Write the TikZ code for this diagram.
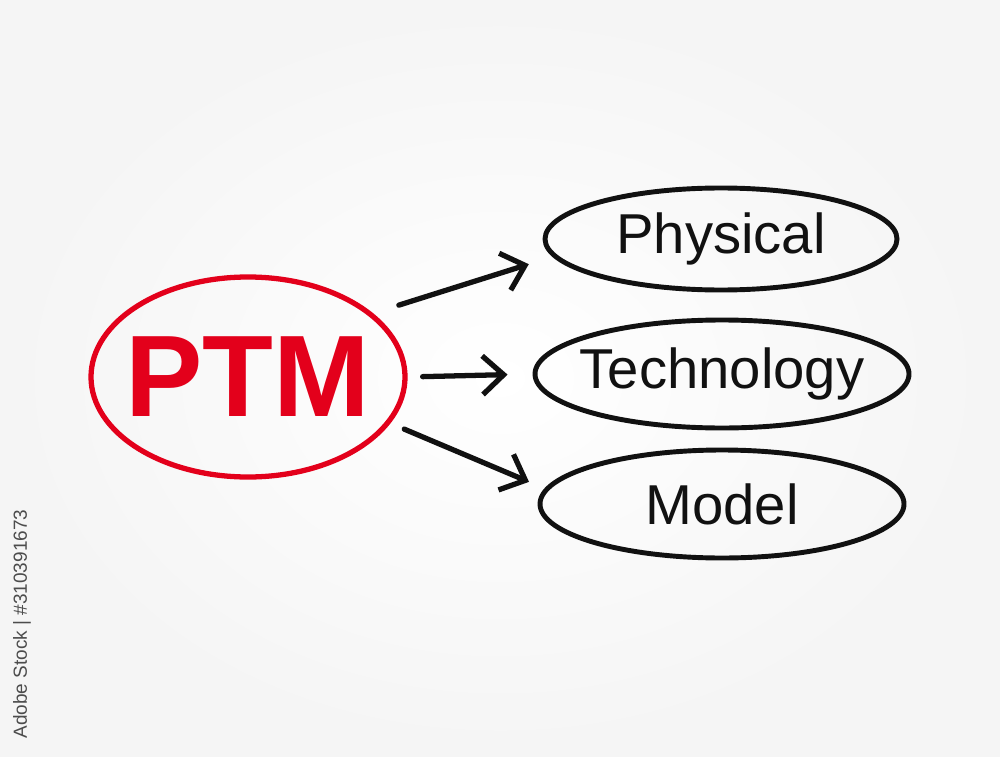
\documentclass[tikz,border=0pt]{standalone}
\usepackage{fontspec}
\setmainfont{Liberation Sans}
\usetikzlibrary{shapes.geometric,arrows.meta}
\definecolor{ptmred}{HTML}{E3001B}
\definecolor{inkblack}{HTML}{111111}
\tikzset{
  word/.style={draw=inkblack,ellipse,line width=1.4pt,inner sep=0pt,text=inkblack,font=\fontsize{16}{19}\selectfont},
  pointer/.style={draw=inkblack,line width=1.5pt,line cap=round,-{Straight Barb[length=6pt,width=11pt,line width=1.5pt]}}
}
\begin{document}
\begin{tikzpicture}
\shade [inner color=white,outer color=gray!8] (0,0) rectangle (10,7.56);
\useasboundingbox (0,0) rectangle (10,7.56);
\node [draw=ptmred,ellipse,line width=1.5pt,inner sep=0pt,minimum width=3.14cm,minimum height=2cm,text=ptmred,font=\bfseries\fontsize{33}{38}\selectfont] (ptm) at (2.48,3.79) {\makebox[0pt]{PTM}};
\node [word,minimum width=3.52cm,minimum height=1.02cm] (phys) at (7.21,5.17) {\makebox[0pt]{Physical}};
\node [word,minimum width=3.74cm,minimum height=1.08cm] (tech) at (7.22,3.82) {\makebox[0pt]{Technology}};
\node [word,minimum width=3.64cm,minimum height=1.08cm] (model) at (7.22,2.52) {\makebox[0pt]{Model}};
\node [rotate=90,text=gray!60!black,font=\fontsize{5.4}{6}\selectfont] (stock) at (0.22,1.32) {Adobe Stock | \#310391673};
\draw [pointer,shorten <=0.27cm,shorten >=0.25cm] (ptm.27) -- (phys.186);
\draw [pointer,shorten <=0.15cm,shorten >=0.25cm] (ptm.east) -- (tech.west);
\draw [pointer,shorten <=0.15cm,shorten >=0.17cm] (ptm.-18) -- (model.175);
\end{tikzpicture}
\end{document}
